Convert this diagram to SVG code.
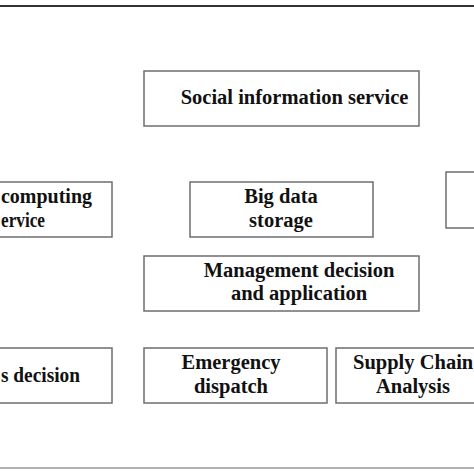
<svg xmlns="http://www.w3.org/2000/svg" width="474" height="474" viewBox="0 0 474 474">
<style>
.box{fill:#fff;stroke:#6e6e6e;stroke-width:1.5}
.t{font-family:"Liberation Serif","Times New Roman",serif;font-weight:bold;font-size:20.5px;fill:#111}
.m{text-anchor:middle}
.e{text-anchor:end}
</style>
<rect x="0" y="0" width="474" height="474" fill="#fff"/>
<g id="frame">
<line x1="0" y1="6" x2="474" y2="6" stroke="#333" stroke-width="2"/>
<line x1="0" y1="468" x2="474" y2="468" stroke="#999" stroke-width="1.5"/>
</g>
<g id="connectors"></g>
<g id="social">
<rect class="box" x="144" y="71" width="275" height="55"/>
<text class="t m" x="294.5" y="104">Social information service</text>
</g>
<g id="cloud">
<rect class="box" x="-10" y="182" width="122" height="55"/>
<text class="t" x="1" y="203" textLength="91" lengthAdjust="spacingAndGlyphs">computing</text>
<text class="t" x="1" y="227" textLength="44" lengthAdjust="spacingAndGlyphs">ervice</text>
</g>
<g id="bigdata">
<rect class="box" x="190" y="182" width="183" height="55"/>
<text class="t m" x="281" y="203">Big data</text>
<text class="t m" x="281" y="227">storage</text>
</g>
<g id="rightbox">
<rect class="box" x="446" y="172" width="40" height="56"/>
</g>
<g id="management">
<rect class="box" x="144" y="256" width="275" height="55"/>
<text class="t m" x="299" y="277">Management decision</text>
<text class="t m" x="299" y="300">and application</text>
</g>
<g id="decision">
<rect class="box" x="-10" y="348" width="122" height="55"/>
<text class="t" x="1" y="382" textLength="79" lengthAdjust="spacingAndGlyphs">s decision</text>
</g>
<g id="emergency">
<rect class="box" x="144" y="348" width="183" height="55"/>
<text class="t m" x="231" y="369">Emergency</text>
<text class="t m" x="231" y="393">dispatch</text>
</g>
<g id="supply">
<rect class="box" x="336" y="348" width="150" height="55"/>
<text class="t" x="353" y="369">Supply Chain</text>
<text class="t m" x="413" y="393">Analysis</text>
</g>
</svg>
